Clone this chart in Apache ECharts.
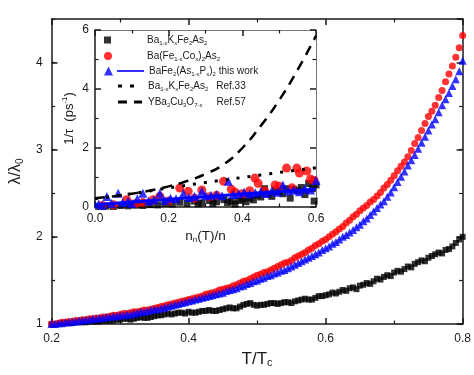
<!DOCTYPE html>
<html>
<head>
<meta charset="utf-8">
<script src="https://cdn.jsdelivr.net/npm/echarts/dist/echarts.min.js"></script>
<style>
html,body{margin:0;padding:0;background:#fff}
#chart{width:474px;height:375px}
</style>
</head>
<body>
<div id="chart"></div>
<script>
// main panel: lambda/lambda0 vs T/Tc
var tMain = [0.200,0.205,0.210,0.215,0.220,0.225,0.230,0.235,0.240,0.245,0.250,0.255,0.260,0.265,0.270,0.275,0.280,0.285,0.290,0.295,
  0.300,0.305,0.310,0.315,0.320,0.325,0.330,0.335,0.340,0.345,0.350,0.355,0.360,0.365,0.370,0.375,0.380,0.385,0.390,0.395,
  0.400,0.405,0.410,0.415,0.420,0.425,0.430,0.435,0.440,0.445,0.450,0.455,0.460,0.465,0.470,0.475,0.480,0.485,0.490,0.495,
  0.500,0.505,0.510,0.515,0.520,0.525,0.530,0.535,0.540,0.545,0.550,0.555,0.560,0.565,0.570,0.575,0.580,0.585,0.590,0.595,
  0.600,0.605,0.610,0.615,0.620,0.625,0.630,0.635,0.640,0.645,0.650,0.655,0.660,0.665,0.670,0.675,0.680,0.685,0.690,0.695,
  0.700,0.705,0.710,0.715,0.720,0.725,0.730,0.735,0.740,0.745,0.750,0.755,0.760,0.765,0.770,0.775,0.780,0.785,0.790,0.795,0.800];
var lamK = [1.00,1.00,1.00,1.01,1.01,1.01,1.01,1.02,1.02,1.02,1.02,1.03,1.03,1.03,1.03,1.04,1.04,1.04,1.04,1.05,
  1.05,1.06,1.06,1.05,1.06,1.07,1.08,1.07,1.07,1.08,1.09,1.10,1.10,1.11,1.12,1.11,1.12,1.13,1.13,1.12,
  1.14,1.13,1.13,1.14,1.15,1.15,1.16,1.15,1.15,1.16,1.17,1.18,1.19,1.18,1.18,1.20,1.22,1.23,1.24,1.22,
  1.21,1.22,1.22,1.23,1.24,1.24,1.23,1.24,1.25,1.25,1.24,1.26,1.27,1.28,1.29,1.28,1.28,1.30,1.32,1.32,
  1.33,1.34,1.36,1.35,1.37,1.39,1.38,1.41,1.42,1.40,1.44,1.45,1.47,1.46,1.49,1.52,1.51,1.54,1.56,1.55,
  1.59,1.61,1.60,1.63,1.66,1.65,1.69,1.71,1.73,1.72,1.76,1.78,1.80,1.82,1.81,1.85,1.86,1.89,1.93,1.97,2.00];
var lamCo = [1.00,1.00,1.01,1.02,1.02,1.03,1.03,1.04,1.04,1.05,1.05,1.06,1.06,1.07,1.07,1.08,1.08,1.09,1.10,1.10,
  1.11,1.12,1.12,1.13,1.14,1.14,1.15,1.16,1.16,1.17,1.18,1.19,1.20,1.21,1.22,1.23,1.24,1.25,1.26,1.27,
  1.28,1.29,1.30,1.31,1.32,1.34,1.35,1.36,1.37,1.39,1.40,1.41,1.42,1.44,1.45,1.47,1.49,1.50,1.52,1.54,
  1.56,1.57,1.59,1.60,1.62,1.64,1.66,1.68,1.70,1.71,1.73,1.76,1.78,1.80,1.82,1.85,1.87,1.90,1.92,1.95,
  1.97,2.00,2.03,2.06,2.09,2.12,2.16,2.19,2.23,2.26,2.30,2.33,2.36,2.40,2.43,2.47,2.51,2.56,2.60,2.65,
  2.70,2.76,2.81,2.86,2.92,2.99,3.07,3.14,3.22,3.30,3.38,3.44,3.51,3.60,3.68,3.78,3.87,3.96,4.06,4.17,4.31];
var lamP = [1.00,1.00,1.01,1.01,1.02,1.02,1.03,1.03,1.04,1.04,1.05,1.05,1.06,1.06,1.07,1.07,1.08,1.08,1.09,1.09,
  1.10,1.10,1.11,1.11,1.12,1.13,1.14,1.14,1.15,1.16,1.17,1.17,1.18,1.19,1.20,1.21,1.22,1.23,1.24,1.25,
  1.26,1.27,1.28,1.29,1.30,1.31,1.32,1.33,1.34,1.35,1.36,1.38,1.39,1.40,1.41,1.43,1.44,1.46,1.47,1.49,
  1.50,1.52,1.53,1.55,1.56,1.58,1.59,1.61,1.62,1.64,1.66,1.68,1.70,1.72,1.74,1.76,1.78,1.80,1.82,1.85,
  1.87,1.89,1.92,1.94,1.97,2.00,2.02,2.05,2.08,2.11,2.14,2.18,2.21,2.25,2.29,2.33,2.37,2.41,2.46,2.51,
  2.57,2.63,2.69,2.75,2.82,2.88,2.94,3.01,3.08,3.15,3.22,3.29,3.35,3.43,3.51,3.58,3.65,3.73,3.81,3.90,4.02];

// inset: 1/tau vs n_n(T)/n
var nnK = [0.01,0.03,0.05,0.07,0.09,0.11,0.13,0.15,0.17,0.19,0.21,0.23,0.25,0.27,0.28,0.29,0.31,0.32,0.33,0.35,
  0.36,0.37,0.38,0.39,0.40,0.41,0.42,0.43,0.44,0.45,0.46,0.47,0.48,0.49,0.50,0.51,0.52,0.53,0.54,0.55,
  0.56,0.57,0.58,0.59,0.595,0.60];
var tauK = [0.02,0.03,0.02,0.05,0.04,0.06,0.05,0.08,0.07,0.12,0.10,0.16,0.12,0.20,0.11,0.14,0.22,0.12,0.18,0.25,
  0.15,0.20,0.10,0.22,0.28,0.18,0.30,0.24,0.40,0.34,0.62,0.44,0.36,0.58,0.52,0.45,0.62,0.30,0.60,0.55,
  0.66,0.42,0.80,0.62,0.20,0.75];
var nnCo = [0.02,0.05,0.086,0.11,0.13,0.158,0.176,0.20,0.23,0.253,0.27,0.29,0.31,0.33,0.349,0.37,0.38,0.40,0.42,0.434,
  0.443,0.46,0.489,0.50,0.52,0.535,0.548,0.555,0.575,0.585,0.595];
var tauCo = [0.05,0.08,0.25,0.12,0.15,0.25,0.36,0.20,0.64,0.53,0.30,0.58,0.35,0.40,0.87,0.60,0.50,0.45,0.55,0.98,
  0.80,0.55,0.75,0.70,1.32,0.65,1.32,1.15,1.22,0.95,0.90];
var nnP = [0.01,0.02,0.032,0.045,0.063,0.075,0.09,0.10,0.115,0.13,0.145,0.16,0.176,0.19,0.205,0.22,0.24,0.255,0.27,0.29,
  0.30,0.315,0.33,0.345,0.362,0.375,0.39,0.405,0.42,0.435,0.45,0.465,0.48,0.495,0.51,0.525,0.54,0.555,0.57,0.585,0.60];
var tauP = [0.10,0.05,0.36,0.12,0.47,0.15,0.20,0.12,0.28,0.47,0.20,0.25,0.47,0.22,0.30,0.28,0.47,0.32,0.36,0.53,
  0.38,0.40,0.42,0.38,0.87,0.42,0.45,0.50,0.44,0.48,0.52,0.46,0.55,0.50,0.75,0.55,0.58,0.52,0.62,0.58,0.90];
var nnFit = [0,0.1,0.2,0.3,0.4,0.5,0.6];
var tauFit = [0.08,0.17,0.26,0.35,0.44,0.52,0.60];
var nnRef33 = [0,0.1,0.2,0.3,0.4,0.5,0.6];
var tauRef33 = [0.28,0.45,0.65,0.83,1.00,1.17,1.33];
var nnRef57 = [0,0.05,0.1,0.15,0.2,0.25,0.3,0.35,0.4,0.45,0.5,0.55,0.6];
var tauRef57 = [0.30,0.36,0.45,0.56,0.70,0.88,1.12,1.45,2.00,2.75,3.62,4.65,5.80];

function pts(xs, ys) { return xs.map(function (x, i) { return [x, ys[i]]; }); }

var ink = '#1a1a1a';
var font = 'Liberation Sans';

function frameAxis(o) {
  return Object.assign({
    type: 'value',
    splitLine: { show: false },
    axisLine: { show: true, onZero: false, lineStyle: { color: ink, width: 1.5 } },
    axisTick: { show: true, inside: true, length: 6, lineStyle: { color: ink, width: 1.5 } },
    minorTick: { show: true, splitNumber: 2, length: 3.5, lineStyle: { color: ink, width: 1.2 } },
    axisLabel: { show: false }
  }, o);
}
// short ticks only (used for the half steps on the main y axis)
function minorOnly(o) {
  return Object.assign({
    type: 'value', gridIndex: 0, min: 1, max: 4.5, interval: 0.5,
    splitLine: { show: false },
    axisLine: { show: false, onZero: false },
    axisTick: { show: true, inside: true, length: 3.5, lineStyle: { color: ink, width: 1.2 } },
    minorTick: { show: false },
    axisLabel: { show: false }
  }, o);
}
function tickLabel(margin, fmt) {
  return { show: true, color: ink, fontSize: 12, fontFamily: font, margin: margin, formatter: fmt };
}

var legendRich = {
  t: { fontSize: 10, fontFamily: font, color: ink, lineHeight: 13 },
  s: { fontSize: 6, fontFamily: font, color: ink, lineHeight: 7, padding: [5, 0, 0, 0], verticalAlign: 'bottom' },
  r1: { fontSize: 10, fontFamily: font, color: ink, lineHeight: 13, padding: [0, 0, 0, 8] },
  r2: { fontSize: 10, fontFamily: font, color: ink, lineHeight: 13, padding: [0, 0, 0, 14] }
};
var legendText = {
  'K': '{t|Ba}{s|1-x}{t|K}{s|x}{t|Fe}{s|2}{t|As}{s|2}',
  'Co': '{t|Ba(Fe}{s|1-x}{t|Co}{s|x}{t|)}{s|2}{t|As}{s|2}',
  'P': '{t|BaFe}{s|2}{t|(As}{s|1-x}{t|P}{s|x}{t|)}{s|2}{t| this work}',
  'Ref33': '{t|Ba}{s|1-x}{t|K}{s|x}{t|Fe}{s|2}{t|As}{s|2}{r1|Ref.33}',
  'Ref57': '{t|YBa}{s|2}{t|Cu}{s|3}{t|O}{s|7-x}{r2|Ref.57}'
};
function legendRow(name, icon, left, cy, w, h, pad) {
  return {
    data: [{ name: name, icon: icon }],
    left: left, top: cy - 7, padding: 0,
    itemWidth: w, itemHeight: h, itemGap: 0,
    selectedMode: false,
    formatter: function (n) { return legendText[n]; },
    textStyle: { rich: legendRich, padding: [0, 0, 0, pad] }
  };
}

var chart = echarts.init(document.getElementById('chart'), null, { renderer: 'canvas' });
chart.setOption({
  backgroundColor: '#fff',
  animation: false,
  textStyle: { fontFamily: font },
  grid: [
    { left: 51, top: 19, right: 11, bottom: 51, containLabel: false },
    { left: 95, top: 30, right: 158, bottom: 168, containLabel: false, show: true, backgroundColor: '#fff', borderWidth: 0 }
  ],
  xAxis: [
    frameAxis({ gridIndex: 0, min: 0.2, max: 0.8, interval: 0.2,
      axisLabel: tickLabel(9, function (v) { return v.toFixed(1); }),
      name: '{a|T/T}{b|c}', nameLocation: 'middle', nameGap: 22,
      nameTextStyle: { rich: {
        a: { fontSize: 17, fontFamily: font, color: ink, lineHeight: 20 },
        b: { fontSize: 11, fontFamily: font, color: ink, lineHeight: 11, padding: [8, 0, 0, 0], verticalAlign: 'bottom' } } } }),
    frameAxis({ gridIndex: 0, position: 'top', min: 0.2, max: 0.8, interval: 0.2 }),
    frameAxis({ gridIndex: 1, min: 0, max: 0.6, interval: 0.2,
      axisLabel: tickLabel(6, function (v) { return v.toFixed(1); }),
      name: '{a|n}{b|n}{a|(T)/n}', nameLocation: 'middle', nameGap: 21,
      nameTextStyle: { rich: {
        a: { fontSize: 13.5, fontFamily: font, color: ink, lineHeight: 16 },
        b: { fontSize: 8, fontFamily: font, color: ink, lineHeight: 8, padding: [7, 0, 0, 0], verticalAlign: 'bottom' } } } }),
    frameAxis({ gridIndex: 1, position: 'top', min: 0, max: 0.6, interval: 0.2,
      axisLine: { show: true, onZero: false, lineStyle: { color: '#777', width: 1 } } })
  ],
  yAxis: [
    frameAxis({ gridIndex: 0, min: 1, max: 4.5, interval: 1, minorTick: { show: false },
      axisLabel: Object.assign(tickLabel(9, function (v) { return String(Math.round(v)); }), { showMaxLabel: false }),
      name: '{a|λ/λ}{b|0}', nameLocation: 'middle', nameGap: 26, nameRotate: 90,
      nameTextStyle: { rich: {
        a: { fontSize: 16, fontFamily: font, color: ink, lineHeight: 18 },
        b: { fontSize: 10, fontFamily: font, color: ink, lineHeight: 10, padding: [7, 0, 0, 0], verticalAlign: 'bottom' } } } }),
    frameAxis({ gridIndex: 0, position: 'right', min: 1, max: 4.5, interval: 1, minorTick: { show: false } }),
    frameAxis({ gridIndex: 1, min: 0, max: 6, interval: 2,
      axisLabel: tickLabel(6, function (v) { return String(Math.round(v)); }),
      name: '{a|1/τ}{a|  (ps}{p|-1}{a|)}', nameLocation: 'middle', nameGap: 18, nameRotate: 90,
      nameTextStyle: { rich: {
        a: { fontSize: 13, fontFamily: font, color: ink, lineHeight: 16 },
        p: { fontSize: 8, fontFamily: font, color: ink, lineHeight: 8, padding: [0, 0, 6, 0], verticalAlign: 'top' } } } }),
    frameAxis({ gridIndex: 1, position: 'right', min: 0, max: 6, interval: 2,
      axisLine: { show: true, onZero: false, lineStyle: { color: '#777', width: 1 } } }),
    minorOnly({ position: 'left' }),
    minorOnly({ position: 'right' })
  ],
  legend: [
    legendRow('K', 'rect', 104, 42, 7, 7, 31),
    legendRow('Co', 'circle', 104, 58, 8, 8, 30),
    legendRow('P', 'path://M0,9L4.5,0L9,9Z M13,3.6H40V5.4H13Z', 104, 73, 40, 9, 0),
    legendRow('Ref33', 'path://M0,0h4v3h-4z M12,0h4v3h-4z', 118, 88, 16, 3, 9),
    legendRow('Ref57', 'path://M0,0h9v3h-9z M16,0h8v3h-8z', 118, 104, 24, 3, 1)
  ],
  series: [
    { name: 'K', type: 'scatter', xAxisIndex: 0, yAxisIndex: 0, symbol: 'rect', symbolSize: 6,
      itemStyle: { color: '#000' }, data: pts(tMain, lamK) },
    { name: 'Co', type: 'scatter', xAxisIndex: 0, yAxisIndex: 0, symbol: 'circle', symbolSize: 7,
      itemStyle: { color: '#ff0000' }, data: pts(tMain, lamCo) },
    { name: 'P', type: 'scatter', xAxisIndex: 0, yAxisIndex: 0, symbol: 'triangle', symbolSize: 8,
      itemStyle: { color: '#0000ff' }, data: pts(tMain, lamP) },

    { name: 'Ref57', type: 'line', xAxisIndex: 2, yAxisIndex: 2, symbol: 'none', smooth: true,
      itemStyle: { color: '#000' }, lineStyle: { color: '#000', width: 2.5, type: [10, 7] }, data: pts(nnRef57, tauRef57) },
    { name: 'Ref33', type: 'line', xAxisIndex: 2, yAxisIndex: 2, symbol: 'none',
      itemStyle: { color: '#000' }, lineStyle: { color: '#000', width: 3, type: [3, 8] }, data: pts(nnRef33, tauRef33) },
    { name: 'K', type: 'scatter', xAxisIndex: 2, yAxisIndex: 2, symbol: 'rect', symbolSize: 7,
      itemStyle: { color: '#000' }, data: pts(nnK, tauK) },
    { name: 'Co', type: 'scatter', xAxisIndex: 2, yAxisIndex: 2, symbol: 'circle', symbolSize: 9,
      itemStyle: { color: '#ff0000' }, data: pts(nnCo, tauCo) },
    { name: 'P', type: 'scatter', xAxisIndex: 2, yAxisIndex: 2, symbol: 'triangle', symbolSize: 9,
      itemStyle: { color: '#0000ff' }, data: pts(nnP, tauP) },
    { name: 'Pfit', type: 'line', xAxisIndex: 2, yAxisIndex: 2, symbol: 'none',
      lineStyle: { color: '#0000ff', width: 3 }, data: pts(nnFit, tauFit) }
  ]
});
</script>
</body>
</html>
